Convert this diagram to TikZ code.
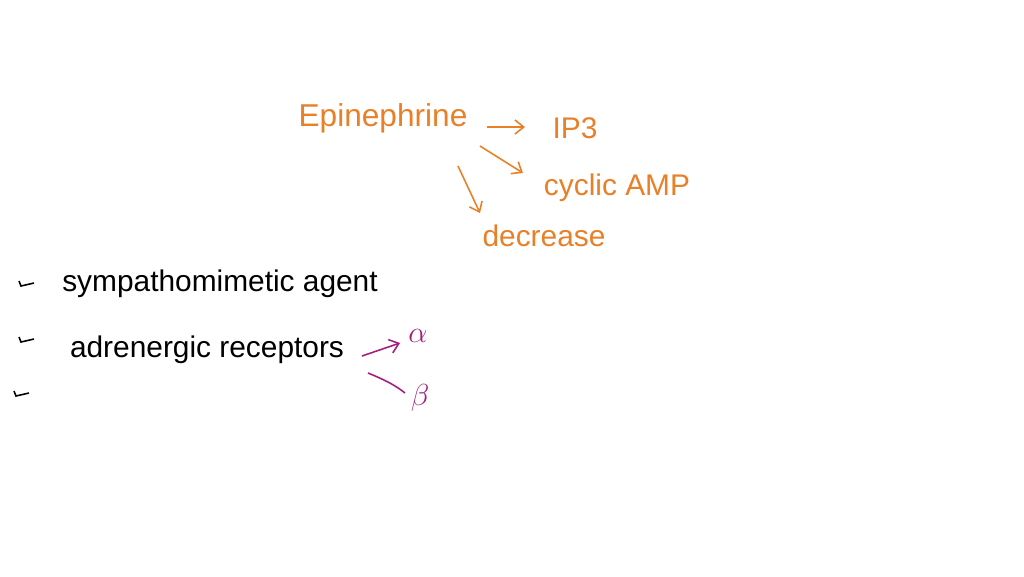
\documentclass[tikz,border=0pt]{standalone}
\usepackage{fontspec}
\setmainfont{Liberation Sans}
\usetikzlibrary{arrows.meta}
\definecolor{org}{RGB}{232,128,40}
\definecolor{pur}{RGB}{165,30,125}
\begin{document}
\begin{tikzpicture}[x=0.02cm,y=-0.02cm,
 ot/.style={text=org,font=\fontsize{17}{20}\selectfont},
 bt/.style={text=black,font=\fontsize{17}{20}\selectfont},
 pt/.style={text=pur,font=\fontsize{16}{19}\selectfont},
 oa/.style={draw=org,line width=0.9pt,-{Straight Barb[length=5pt,width=8pt]}},
 pa/.style={draw=pur,line width=0.9pt,-{Straight Barb[length=5pt,width=8pt]}},
 tick/.style={draw=black,line width=0.9pt}]
\useasboundingbox (0,0) rectangle (1024,576);
\node[ot,font=\fontsize{18}{20}\selectfont] (epi) at (383,118) {Epinephrine};
\node[ot] (ip3) at (575,128) {IP3};
\node[ot] (camp) at (617,188) {cyclic AMP};
\node[ot] (dec) at (544,236) {decrease};
\coordinate (a1) at (487,127);
\coordinate (a2) at (480,146);
\coordinate (a3) at (458,166);
\draw[oa] (a1) -- (525,127);
\draw[oa] (a2) -- (523,173);
\draw[oa] (a3) -- (480,213);
\node[bt] (sym) at (220,284) {sympathomimetic agent};
\node[bt] (adr) at (207,350) {adrenergic receptors};
\node[pt] (al) at (418,336) {$\alpha$};
\node[pt] (be) at (420,398) {$\beta$};
\coordinate (p1) at (362,356);
\coordinate (p2) at (368,373);
\draw[pa] (p1) -- (400,343);
\draw[draw=pur,line width=0.9pt] (p2) .. controls (385,380) and (395,385) .. (405,393);
\draw[tick] (19,281) -- (21,286) -- (34,283);
\draw[tick] (19,337) -- (21,342) -- (34,339);
\draw[tick] (14,391) -- (16,396) -- (29,393);
\end{tikzpicture}
\end{document}
